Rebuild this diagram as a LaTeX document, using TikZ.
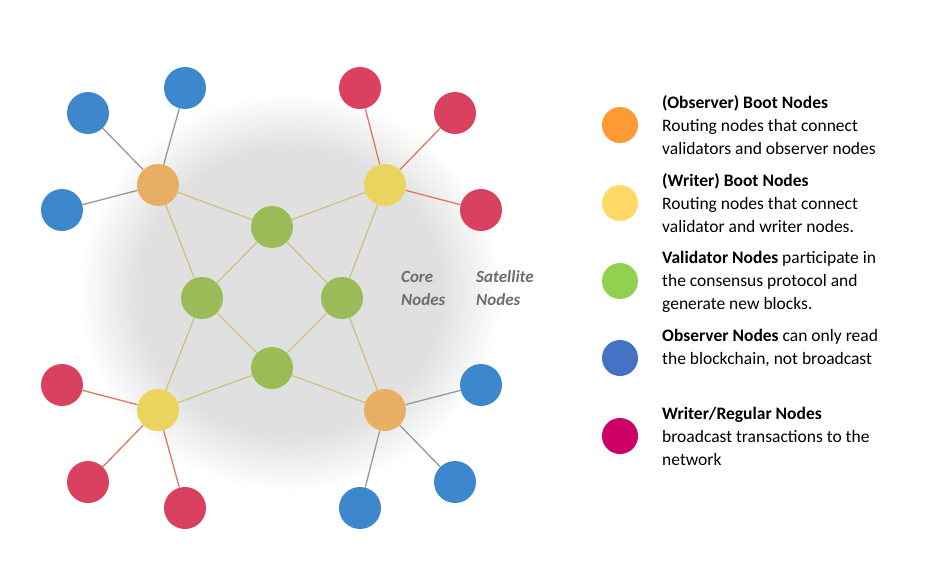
\documentclass[tikz,border=0pt]{standalone}
\usepackage{fontspec}
\setmainfont{Carlito}
\usetikzlibrary{positioning,backgrounds}
\definecolor{bootO}{HTML}{E8AE63}
\definecolor{bootY}{HTML}{EAD45E}
\definecolor{valG}{HTML}{9BBB59}
\definecolor{obsB}{HTML}{3D88CC}
\definecolor{wrtR}{HTML}{D9415F}
\definecolor{lnk}{HTML}{CFC27E}
\definecolor{legO}{HTML}{FF9933}
\definecolor{legY}{HTML}{FFD966}
\definecolor{legG}{HTML}{92D050}
\definecolor{legB}{HTML}{4472C4}
\definecolor{legR}{HTML}{CC0066}
\pgfdeclareradialshading{coreglow}{\pgfpoint{0bp}{0bp}}{color(0bp)=(black!12); color(18bp)=(black!12); color(25bp)=(white); color(50bp)=(white)}
\tikzset{
  peer/.style={circle, minimum size=42pt, inner sep=0pt, fill=#1},
  link/.style={draw=#1, line width=1.3pt},
  dot/.style={circle, minimum size=36pt, inner sep=0pt, fill=#1},
  legtext/.style={anchor=north west, align=left, font=\fontsize{17.5}{23}\selectfont, inner sep=0pt},
  zone/.style={font=\fontsize{17}{23}\selectfont\bfseries\itshape, text=gray!85!black, align=left, anchor=west, inner sep=0pt}
}
\begin{document}
\begin{tikzpicture}[x=1pt,y=-1pt]
    \useasboundingbox (0,0) rectangle (942,578);

    \node[peer=bootO] (ob1) at (158,185) {};
    \node[peer=bootY] (wb1) at (385,185) {};
    \node[peer=bootY] (wb2) at (158,410) {};
    \node[peer=bootO] (ob2) at (385,410) {};
    \node[peer=valG] (v1) at (272,227) {};
    \node[peer=valG] (v2) at (202,298) {};
    \node[peer=valG] (v3) at (342,298) {};
    \node[peer=valG] (v4) at (272,368) {};

    % satellites
    \node[peer=obsB] (o1) at (88,113) {};
    \node[peer=obsB] (o2) at (185,88) {};
    \node[peer=obsB] (o3) at (62,210) {};
    \node[peer=wrtR] (w1) at (360,88) {};
    \node[peer=wrtR] (w2) at (455,113) {};
    \node[peer=wrtR] (w3) at (481,210) {};
    \node[peer=wrtR] (w4) at (62,385) {};
    \node[peer=wrtR] (w5) at (88,482) {};
    \node[peer=wrtR] (w6) at (185,508) {};
    \node[peer=obsB] (o4) at (481,385) {};
    \node[peer=obsB] (o5) at (455,482) {};
    \node[peer=obsB] (o6) at (360,508) {};

    \begin{scope}[on background layer]
    % core area
    \shade[shading=coreglow] (290,292) ellipse (212 and 200);
    % links
    \foreach \A/\B in {ob1/v1,ob1/v2,wb1/v1,wb1/v3,wb2/v2,wb2/v4,ob2/v3,ob2/v4,v1/v2,v1/v3,v2/v4,v3/v4}
      {\path[link=lnk] (\A) -- (\B);}
    \foreach \A/\B in {ob1/o1,ob1/o2,ob1/o3,ob2/o4,ob2/o5,ob2/o6}
      {\path[link=obsB!50!bootO] (\A) -- (\B);}
    \foreach \A/\B in {wb1/w1,wb1/w2,wb1/w3,wb2/w4,wb2/w5,wb2/w6}
      {\path[link=wrtR!50!bootO] (\A) -- (\B);}
    \end{scope}

    \node[zone] (core) at (401,288) {Core\\Nodes};
    \node[zone] (sat) at (476,288) {Satellite\\Nodes};

    % legend
    \node[dot=legO] (l1) at (620,125) {};
    \node[dot=legY] (l2) at (620,203) {};
    \node[dot=legG] (l3) at (620,281) {};
    \node[dot=legB] (l4) at (620,358) {};
    \node[dot=legR] (l5) at (620,436) {};
    \node[legtext] (t1) at (662,95) {\textbf{(Observer) Boot Nodes}\\Routing nodes that connect\\validators and observer nodes};
    \node[legtext] (t2) at (662,173) {\textbf{(Writer) Boot Nodes}\\Routing nodes that connect\\validator and writer nodes.};
    \node[legtext] (t3) at (662,251) {\textbf{Validator Nodes} participate in\\the consensus protocol and\\generate new blocks.};
    \node[legtext] (t4) at (662,329) {\textbf{Observer Nodes} can only read\\the blockchain, not broadcast};
    \node[legtext] (t5) at (662,407) {\textbf{Writer/Regular Nodes}\\broadcast transactions to the\\network};
\end{tikzpicture}
\end{document}
